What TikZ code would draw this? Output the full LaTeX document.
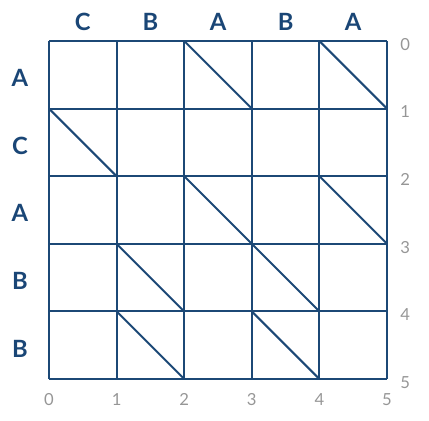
\documentclass[tikz,border=0pt]{standalone}
\usepackage{fontspec}
\setmainfont{Lato}
\usepackage{tikz}
\usetikzlibrary{calc}
\definecolor{grid-blue}{RGB}{28, 72, 118}
\definecolor{letter-blue}{RGB}{26, 70, 118}
\definecolor{num-gray}{RGB}{150, 150, 150}
\tikzset{
  seqletter/.style = {text=letter-blue, font=\fontsize{10}{12}\selectfont\bfseries},
  idxnum/.style = {text=num-gray, font=\fontsize{7}{8}\selectfont},
  gridline/.style = {grid-blue, line width=0.85pt}
}

\begin{document}
\begin{tikzpicture}
          \useasboundingbox (-0.725, -0.607) rectangle (5.621, 5.607);
          \coordinate (origin) at (0, 0);
          \coordinate (corner) at (5, 5);

          \draw[gridline] (origin) grid (corner);

          % matches: (row, column) counted from the top left
          \foreach \r/\c in {0/2, 0/4, 1/0, 2/2, 2/4, 3/1, 3/3, 4/1, 4/3}
            \draw[gridline] (\c, 5-\r) -- (\c+1, 4-\r);

          \node[seqletter] (top0) at (0.5, 5.29) {C};
          \node[seqletter] (top1) at (1.5, 5.29) {B};
          \node[seqletter] (top2) at (2.5, 5.29) {A};
          \node[seqletter] (top3) at (3.5, 5.29) {B};
          \node[seqletter] (top4) at (4.5, 5.29) {A};

          \node[seqletter] (left0) at (-0.43, 4.45) {A};
          \node[seqletter] (left1) at (-0.43, 3.45) {C};
          \node[seqletter] (left2) at (-0.43, 2.45) {A};
          \node[seqletter] (left3) at (-0.43, 1.45) {B};
          \node[seqletter] (left4) at (-0.43, 0.45) {B};

          \foreach \i in {0,...,5} {
            \node[idxnum] (col\i) at (\i, -0.3) {\i};
            \node[idxnum] (row\i) at (5.27, 4.95-\i) {\i};
          }
        \end{tikzpicture}
\end{document}
